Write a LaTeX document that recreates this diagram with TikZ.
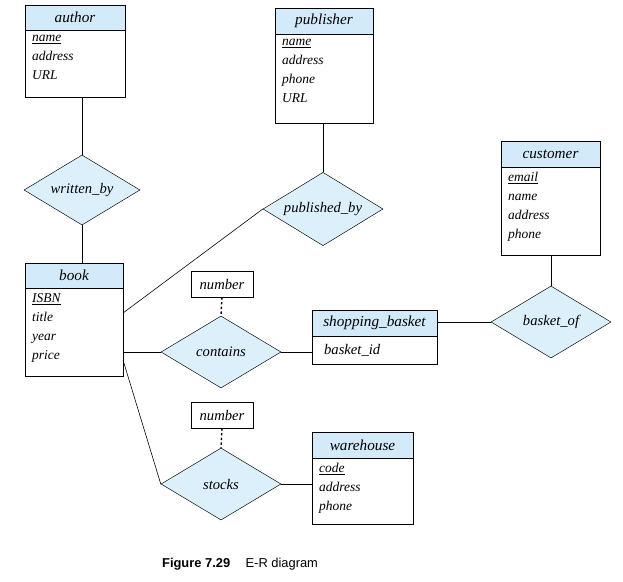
\documentclass[tikz,border=0pt]{standalone}
\usepackage{fontspec}
\setmainfont{Liberation Serif}
\newfontfamily\capfont{Liberation Sans}
\usetikzlibrary{shapes.geometric}
\definecolor{hdr}{RGB}{210,234,250}
\definecolor{dia}{RGB}{220,240,252}
\begin{document}
\begin{tikzpicture}[x=0.03cm,y=-0.03cm,font=\rmfamily,
 box/.style={draw,line width=0.6pt},
 hd/.style={draw,line width=0.6pt,fill=hdr},
 rel/.style={diamond,draw,fill=dia,aspect=1.67,inner sep=0pt,font=\rmfamily\itshape\fontsize{12.5}{14}\selectfont},
 attr/.style={anchor=north west,align=left,font=\rmfamily\itshape\fontsize{11.5}{16.2}\selectfont,inner sep=0pt},
 title/.style={font=\rmfamily\itshape\fontsize{13}{14}\selectfont},
 ln/.style={line width=0.5pt}]
\useasboundingbox (0,0) rectangle (623,581);
\newcommand{\ent}[8]{%
 \draw[hd] (#2,#4) rectangle (#3,#5);
 \draw[box] (#2,#5) rectangle (#3,#6);
 \node[title] at ({(#2+#3)/2},{(#4+#5)/2}) {#7};
 \node[attr] (#1) at (#2+7,#5+5) {#8};
 \coordinate (#1-n) at ({(#2+#3)/2},#4);
 \coordinate (#1-s) at ({(#2+#3)/2},#6);
}
\ent{author}{25}{125}{5}{30}{97}{author}{\underline{name}\\address\\URL}
\ent{publisher}{275}{373}{8}{34}{123}{publisher}{\underline{name}\\address\\phone\\URL}
\ent{customer}{501}{600}{141}{167}{255}{customer}{\underline{email}\\name\\address\\phone}
\ent{book}{25}{123}{263}{288}{376}{book}{\underline{ISBN}\\title\\year\\price}
\ent{basket}{312}{437}{310}{336}{364}{shopping\_basket}{}
\node[anchor=west,font=\rmfamily\itshape\fontsize{12.5}{14}\selectfont] at (320,350) {basket\_id};
\ent{warehouse}{312}{413}{432}{458}{524}{warehouse}{\underline{code}\\address\\phone}
\node[rel,minimum width=3.48cm,minimum height=2.1cm] (wb) at (82,190) {written\_by};
\node[rel,minimum width=3.6cm,minimum height=2.2cm] (pb) at (323,209) {published\_by};
\node[rel,minimum width=3.6cm,minimum height=2.16cm] (bo) at (551,322) {basket\_of};
\node[rel,minimum width=3.6cm,minimum height=2.16cm] (ct) at (221,352) {contains};
\node[rel,minimum width=3.6cm,minimum height=2.16cm] (st) at (221,484) {stocks};
\node[box,minimum width=1.86cm,minimum height=0.78cm,font=\rmfamily\itshape\fontsize{12.5}{14}\selectfont] (n1) at (222,284) {number};
\node[box,minimum width=1.86cm,minimum height=0.78cm,font=\rmfamily\itshape\fontsize{12.5}{14}\selectfont] (n2) at (222,415) {number};
\coordinate (b1) at (123,313);
\coordinate (b2) at (123,352);
\coordinate (b3) at (123,360);
\coordinate (sbl) at (312,352);
\coordinate (sbr) at (437,322);
\coordinate (whl) at (312,484);
\draw[ln] (wb.north |- author-s) -- (wb.north);
\draw[ln] (wb.south) -- (wb.south |- book-n);
\draw[ln] (pb.north |- publisher-s) -- (pb.north);
\draw[ln] (b1) -- (pb.west);
\draw[ln] (b2) -- (ct.west);
\draw[ln] (ct.east) -- (sbl);
\draw[ln] (sbr) -- (bo.west);
\draw[ln] (bo.north) -- (bo.north |- customer-s);
\draw[ln] (b3) -- (st.west);
\draw[ln] (st.east) -- (whl);
\draw[line width=1.2pt,dash pattern=on 2pt off 2pt] (n1.south) -- (ct.north);
\draw[line width=1.2pt,dash pattern=on 2pt off 2pt] (n2.south) -- (st.north);
\node[anchor=west,font=\capfont\fontsize{11}{13}\selectfont] (cap) at (158,564) {\textbf{Figure 7.29}\hspace{1.2em}E-R diagram};
\end{tikzpicture}
\end{document}
